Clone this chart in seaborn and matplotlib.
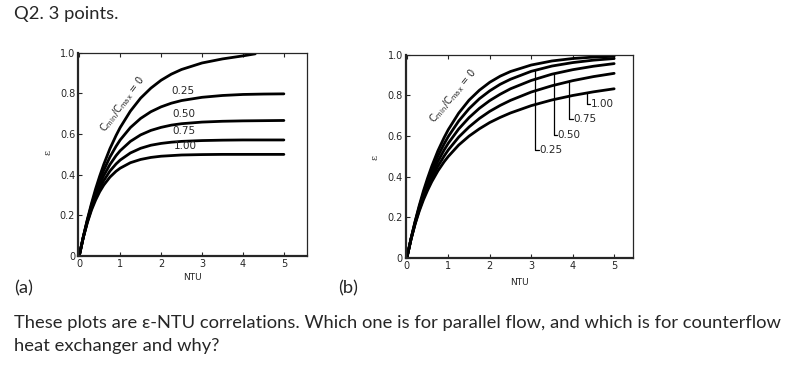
import pandas as pd
import seaborn as sns
import matplotlib.pyplot as plt

# === data
ntu = [0, 0.1, 0.2, 0.3, 0.4, 0.5, 0.6, 0.75, 0.9, 1, 1.25, 1.5, 1.75, 2, 2.25, 2.5, 3, 3.5, 4, 4.5, 5]
ratios = ['0', '0.25', '0.50', '0.75', '1.00']

# (a) - C=0 curve stops where it hits the top
ntu_a0 = [0, 0.1, 0.2, 0.3, 0.4, 0.5, 0.6, 0.75, 0.9, 1, 1.25, 1.5, 1.75, 2, 2.25, 2.5, 3, 3.5, 4, 4.3]
eps_a0 = [0, .095, .181, .259, .330, .393, .451, .528, .593, .632, .713, .777, .826, .865, .895, .918, .950, .970, .985, .995]
eps_a25 = [0, .094, .177, .250, .315, .372, .422, .487, .540, .571, .632, .677, .710, .734, .752, .765, .781, .790, .795, .797, .798]
eps_a50 = [0, .093, .173, .242, .301, .352, .396, .450, .494, .518, .564, .596, .618, .633, .644, .651, .659, .663, .665, .666, .667]
eps_a75 = [0, .092, .169, .233, .288, .333, .371, .418, .453, .472, .507, .530, .545, .554, .560, .564, .568, .570, .571, .571, .571]
eps_a100 = [0, .091, .165, .226, .275, .316, .349, .388, .417, .432, .459, .475, .485, .491, .494, .497, .499, .500, .500, .500, .500]

# (b)
eps_b0 = [0, .095, .181, .259, .330, .393, .451, .528, .593, .632, .713, .777, .826, .865, .895, .918, .950, .970, .982, .989, .993]
eps_b25 = [0, .094, .178, .252, .318, .378, .431, .502, .562, .598, .674, .735, .784, .823, .855, .880, .919, .945, .962, .974, .982]
eps_b50 = [0, .093, .174, .245, .307, .362, .412, .476, .532, .565, .635, .691, .737, .775, .806, .833, .874, .905, .927, .944, .957]
eps_b75 = [0, .092, .170, .238, .296, .348, .393, .452, .502, .532, .595, .645, .687, .722, .751, .776, .817, .848, .873, .893, .909]
eps_b100 = [0, .091, .167, .231, .286, .333, .375, .429, .474, .500, .556, .600, .636, .667, .692, .714, .750, .778, .800, .818, .833]

# leader-line label spots for (b): (x of vertical line, text y)
lead_x = [3.1, 3.55, 3.92, 4.34]
lead_y = [0.53, 0.605, 0.685, 0.76]

sns.set_style("ticks")
plt.rcParams['font.family'] = ['DejaVu Sans']

fig = plt.figure(figsize=(8, 3.72), dpi=100)
ax_a = fig.add_axes([0.0975, 0.312, 0.286, 0.546])
ax_b = fig.add_axes([0.507, 0.3065, 0.284, 0.546])

curves_a = [(ntu_a0, eps_a0), (ntu, eps_a25), (ntu, eps_a50), (ntu, eps_a75), (ntu, eps_a100)]
curves_b = [(ntu, eps_b0), (ntu, eps_b25), (ntu, eps_b50), (ntu, eps_b75), (ntu, eps_b100)]

for ax, curves, xmax, pad in [(ax_a, curves_a, 5.56, 3), (ax_b, curves_b, 5.45, 5)]:
    for x, y in curves:
        sns.lineplot(x=x, y=y, ax=ax, color='black', lw=2.0)
    ax.set_xlim(-0.03, xmax)
    ax.set_ylim(0, 1.0)
    ax.set_xticks([0, 1, 2, 3, 4, 5])
    ax.set_yticks([0, 0.2, 0.4, 0.6, 0.8, 1.0])
    ax.set_yticklabels(['0', '0.2', '0.4', '0.6', '0.8', '1.0'])
    ax.tick_params(direction='in', length=3, width=0.8, labelsize=7, top=True, pad=2)
    for s in ['left', 'bottom']:
        ax.spines[s].set_linewidth(1.6)
    for s in ['top', 'right']:
        ax.spines[s].set_linewidth(0.9)
    ax.set_xlabel('NTU', fontsize=6.5, labelpad=pad)
    ax.set_ylabel('')

# ε labels
fig.text(0.06, 0.589, 'ε', fontsize=7, rotation=90, ha='center', va='center', family='DejaVu Serif')
fig.text(0.469, 0.578, 'ε', fontsize=7, rotation=90, ha='center', va='center', family='DejaVu Serif')

# inline labels (a)
ratio_label = r'$\mathregular{C_{min}/C_{max}}$ = 0'
ax_a.text(1.06, 0.75, ratio_label, fontsize=7, rotation=53, ha='center', va='center')
for lab, xx, yy in zip(ratios[1:], [2.54, 2.56, 2.56, 2.6], [0.81, 0.70, 0.615, 0.54]):
    ax_a.text(xx, yy, lab, fontsize=7.5, ha='center', va='center')

# inline labels (b)
ax_b.text(1.12, 0.80, ratio_label, fontsize=7, rotation=50, ha='center', va='center')
for i, lab in enumerate(ratios[1:]):
    xs = curves_b[i + 1][0]
    ys = curves_b[i + 1][1]
    x0 = lead_x[i]
    # height of curve where the leader starts
    j = max(k for k in range(len(xs)) if xs[k] <= x0)
    yc = ys[j] + (ys[j + 1] - ys[j]) * (x0 - xs[j]) / (xs[j + 1] - xs[j])
    ax_b.plot([x0, x0, x0 + 0.08], [yc, lead_y[i], lead_y[i]], color='black', lw=0.9)
    ax_b.text(x0 + 0.09, lead_y[i], lab, fontsize=7.5, ha='left', va='center')

# question text
qfont = 'Lato'
qsize = 13.2
fig.text(14 / 800, 1 - 6 / 372, 'Q2. 3 points.', fontsize=qsize, family=qfont, va='top')
fig.text(14 / 800, 1 - 293 / 372, '(a)', fontsize=qsize, family=qfont, va='baseline')
fig.text(338 / 800, 1 - 293 / 372, '(b)', fontsize=qsize, family=qfont, va='baseline')
fig.text(14 / 800, 1 - 328 / 372,
         'These plots are ε-NTU correlations. Which one is for parallel flow, and which is for counterflow',
         fontsize=qsize, family=qfont, va='baseline')
fig.text(14 / 800, 1 - 351 / 372, 'heat exchanger and why?', fontsize=qsize, family=qfont, va='baseline')

fig.savefig('out.png', dpi=100)
